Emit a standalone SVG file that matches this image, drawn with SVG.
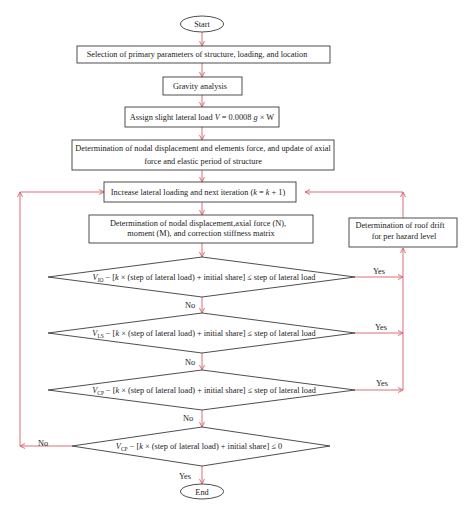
<svg xmlns="http://www.w3.org/2000/svg" width="474" height="516" viewBox="0 0 474 516">
<style>
.n{fill:#fff;stroke:#3a3a3a;stroke-width:0.9}
.t{font-family:"Liberation Serif",serif;font-size:8.3px;fill:#1a1a1a;text-anchor:middle}
.l{font-family:"Liberation Serif",serif;font-size:8.3px;fill:#1a1a1a;text-anchor:middle}
.c{fill:none;stroke:#d6606b;stroke-width:0.9}
.a{marker-end:url(#ah)}
.i{font-style:italic}
</style>
<defs>
<marker id="ah" viewBox="0 0 6 6" refX="5.5" refY="3" markerWidth="6" markerHeight="6" markerUnits="userSpaceOnUse" orient="auto">
<path d="M0.5,0.5 L5.5,3 L0.5,5.5" fill="none" stroke="#d6606b" stroke-width="0.9"/>
</marker>
</defs>
<rect width="474" height="516" fill="#fff"/>
<g id="connectors">
<line class="c a" x1="202" y1="32" x2="202" y2="46"/>
<line class="c a" x1="202" y1="63" x2="202" y2="77"/>
<line class="c a" x1="202" y1="95" x2="202" y2="107"/>
<line class="c a" x1="202" y1="127" x2="202" y2="140"/>
<line class="c a" x1="202" y1="170" x2="202" y2="182"/>
<line class="c a" x1="202" y1="202" x2="202" y2="215"/>
<line class="c a" x1="202" y1="243" x2="202" y2="257"/>
<line class="c a" x1="202" y1="297" x2="202" y2="313"/>
<line class="c a" x1="202" y1="353" x2="202" y2="370"/>
<line class="c a" x1="202" y1="410" x2="202" y2="427"/>
<line class="c a" x1="202" y1="466" x2="202" y2="484"/>
<line class="c a" x1="355" y1="277" x2="403" y2="277"/>
<line class="c a" x1="355" y1="333" x2="403" y2="333"/>
<line class="c a" x1="355" y1="390" x2="403" y2="390"/>
<line class="c a" x1="403" y1="390" x2="403" y2="248"/>
<line class="c a" x1="403" y1="218" x2="403" y2="192"/>
<line class="c a" x1="403" y1="192" x2="305" y2="192"/>
<line class="c a" x1="72" y1="446" x2="20" y2="446"/>
<line class="c a" x1="20" y1="446" x2="20" y2="192"/>
<line class="c a" x1="20" y1="192" x2="104" y2="192"/>
<text class="l" x="379" y="274">Yes</text>
<text class="l" x="381" y="330">Yes</text>
<text class="l" x="382" y="386">Yes</text>
<text class="l" x="190" y="308">No</text>
<text class="l" x="190" y="365">No</text>
<text class="l" x="188" y="421">No</text>
<text class="l" x="43" y="446">No</text>
<text class="l" x="185" y="479">Yes</text>
</g>
<g id="start">
<ellipse class="n" cx="202" cy="24" rx="21.5" ry="8"/>
<text class="t" x="202" y="27">Start</text>
</g>
<g id="selection">
<rect class="n" x="77" y="46" width="253" height="17"/>
<text class="t" x="197" y="57">Selection of primary parameters of structure, loading, and location</text>
</g>
<g id="gravity">
<rect class="n" x="163" y="77" width="79" height="18"/>
<text class="t" x="200" y="89">Gravity analysis</text>
</g>
<g id="assign">
<rect class="n" x="125" y="107" width="154" height="20"/>
<text class="t" x="202" y="120">Assign slight lateral load <tspan class="i">V</tspan> = 0.0008 <tspan class="i">g</tspan> × W</text>
</g>
<g id="nodal1">
<rect class="n" x="72" y="140" width="262" height="30"/>
<text class="t" x="203" y="151">Determination of nodal displacement and elements force, and update of axial</text>
<text class="t" x="203" y="164">force and elastic period of structure</text>
</g>
<g id="increase">
<rect class="n" x="104" y="182" width="192" height="20"/>
<text class="t" x="198" y="195">Increase lateral loading and next iteration (<tspan class="i">k</tspan> = <tspan class="i">k</tspan> + 1)</text>
</g>
<g id="nodal2">
<rect class="n" x="89" y="215" width="224" height="28"/>
<text class="t" x="198" y="226">Determination of nodal displacement,axial force (N),</text>
<text class="t" x="201" y="236">moment (M), and correction stiffness matrix</text>
</g>
<g id="roofdrift">
<rect class="n" x="349" y="218" width="108" height="29"/>
<text class="t" x="400" y="228">Determination of roof drift</text>
<text class="t" x="404" y="239">for per hazard level</text>
</g>
<g id="d1">
<polygon class="n" points="202,257 355,277 202,297 48,277"/>
<text class="t" x="204" y="280"><tspan class="i">V</tspan><tspan font-size="5.5" dy="1.5">IO</tspan><tspan dy="-1.5"> − [</tspan><tspan class="i">k</tspan> ×  (step of lateral load) + initial share] ≤ step of lateral load</text>
</g>
<g id="d2">
<polygon class="n" points="202,313 355,333 202,353 48,333"/>
<text class="t" x="204" y="336"><tspan class="i">V</tspan><tspan font-size="5.5" dy="1.5">LS</tspan><tspan dy="-1.5"> − [</tspan><tspan class="i">k</tspan> ×  (step of lateral load) + initial share] ≤ step of lateral load</text>
</g>
<g id="d3">
<polygon class="n" points="202,370 355,390 202,410 48,390"/>
<text class="t" x="204" y="393"><tspan class="i">V</tspan><tspan font-size="5.5" dy="1.5">CP</tspan><tspan dy="-1.5"> − [</tspan><tspan class="i">k</tspan> ×  (step of lateral load) + initial share] ≤ step of lateral load</text>
</g>
<g id="d4">
<polygon class="n" points="202,427 330,446 202,466 72,446"/>
<text class="t" x="199" y="449"><tspan class="i">V</tspan><tspan font-size="5.5" dy="1.5">CP</tspan><tspan dy="-1.5"> − [</tspan><tspan class="i">k</tspan> ×  (step of lateral load) + initial share] ≤ 0</text>
</g>
<g id="end">
<ellipse class="n" cx="202" cy="491.5" rx="21.5" ry="7.5"/>
<text class="t" x="202" y="494.5">End</text>
</g>
</svg>
